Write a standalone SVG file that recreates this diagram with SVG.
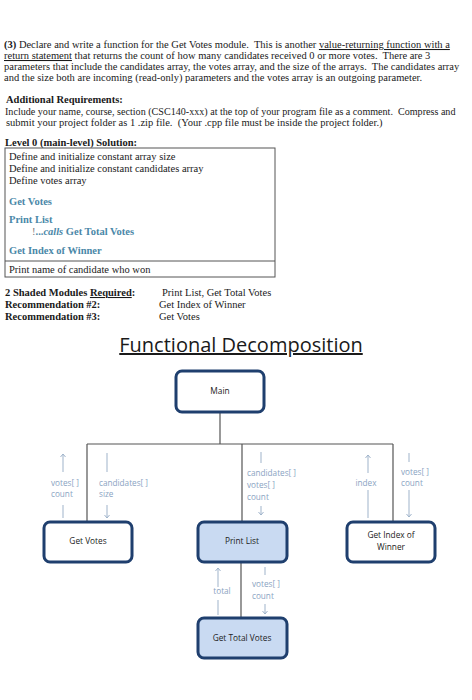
<svg xmlns="http://www.w3.org/2000/svg" width="472" height="700" viewBox="0 0 472 700">
<style>
.t{font-family:"Liberation Serif","Times New Roman",serif;font-size:10.5px;fill:#1a1a1a;white-space:pre}
.b{font-weight:bold}
.u{text-decoration:underline}
.blue{fill:#4a88a8;font-weight:bold}
.title{font-family:"Open Sans","Liberation Sans",sans-serif;font-size:20px;fill:#1a1a1a;text-decoration:underline}
.node{fill:#ffffff;stroke:#1f3f6e;stroke-width:3}
.shaded{fill:#c9daf2;stroke:#1f3f6e;stroke-width:3}
.nt{font-family:"Open Sans","Liberation Sans",sans-serif;font-size:8.3px;fill:#222;text-anchor:middle}
.lbl{font-family:"Open Sans","Liberation Sans",sans-serif;font-size:8.2px;fill:#8aa3c2}
.conn{stroke:#555;stroke-width:1.2;fill:none}
.flow{stroke:#9fb3ca;stroke-width:1;fill:none}
</style>
<defs>
<marker id="ah" markerWidth="6" markerHeight="6" refX="3" refY="3" orient="auto" markerUnits="userSpaceOnUse">
<path d="M0,0.5 L3,3 L0,5.5" fill="none" stroke="#9fb3ca" stroke-width="1"/>
</marker>
</defs>
<rect width="472" height="700" fill="#ffffff"/>
<g id="header">
<text class="t" x="4" y="48"><tspan class="b">(3)</tspan> Declare and write a function for the Get Votes module.  This is another <tspan class="u">value-returning function with a</tspan></text>
<text class="t" x="4" y="59"><tspan class="u">return statement</tspan> that returns the count of how many candidates received 0 or more votes.  There are 3</text>
<text class="t" x="4" y="70">parameters that include the candidates array, the votes array, and the size of the arrays.  The candidates array</text>
<text class="t" x="4" y="81">and the size both are incoming (read-only) parameters and the votes array is an outgoing parameter.</text>
<text class="t b" x="6" y="103">Additional Requirements:</text>
<text class="t" x="5" y="115" style="font-size:10.1px">Include your name, course, section (CSC140-xxx) at the top of your program file as a comment.  Compress and</text>
<text class="t" x="6" y="126">submit your project folder as 1 .zip file.  (Your .cpp file must be inside the project folder.)</text>
<text class="t b" x="5" y="146">Level 0 (main-level) Solution:</text>
</g>
<g id="solution-box">
<rect x="5" y="148" width="270" height="129" fill="none" stroke="#555" stroke-width="1"/>
<line x1="5" y1="261" x2="275" y2="261" stroke="#555" stroke-width="1"/>
<text class="t" x="9" y="160">Define and initialize constant array size</text>
<text class="t" x="9" y="172">Define and initialize constant candidates array</text>
<text class="t" x="9" y="184">Define votes array</text>
<text class="t blue" x="9" y="205">Get Votes</text>
<text class="t blue" x="9" y="223">Print List</text>
<text class="t blue" x="32" y="235"><tspan fill="#777" font-weight="normal">!</tspan>...<tspan font-style="italic">calls</tspan> Get Total Votes</text>
<text class="t blue" x="9" y="254">Get Index of Winner</text>
<text class="t" x="9" y="273">Print name of candidate who won</text>
</g>
<g id="modules">
<text class="t b" x="5" y="296">2 Shaded Modules <tspan class="u">Required</tspan>:</text>
<text class="t" x="162" y="296">Print List, Get Total Votes</text>
<text class="t b" x="5" y="308">Recommendation #2:</text>
<text class="t" x="159" y="308">Get Index of Winner</text>
<text class="t b" x="5" y="320">Recommendation #3:</text>
<text class="t" x="159" y="320">Get Votes</text>
</g>
<text class="title" x="241" y="352" text-anchor="middle">Functional Decomposition</text>
<g id="connectors">
<path class="conn" d="M220,412 V444 M87,444 H393 M87,444 V521 M242,444 V521 M393,444 V521 M241,562 V618"/>
<path class="flow" d="M63,472 V454" marker-end="url(#ah)"/>
<path class="flow" d="M63,505 V518"/>
<path class="flow" d="M107,453 V472"/>
<path class="flow" d="M107,505 V518" marker-end="url(#ah)"/>
<path class="flow" d="M261,452 V463"/>
<path class="flow" d="M261,506 V515" marker-end="url(#ah)"/>
<path class="flow" d="M368,473 V455" marker-end="url(#ah)"/>
<path class="flow" d="M368,490 V518"/>
<path class="flow" d="M409,453 V462"/>
<path class="flow" d="M409,490 V517" marker-end="url(#ah)"/>
<path class="flow" d="M218,587 V568" marker-end="url(#ah)"/>
<path class="flow" d="M218,600 V615"/>
<path class="flow" d="M265,567 V575"/>
<path class="flow" d="M265,604 V614" marker-end="url(#ah)"/>
<text class="lbl" x="51" y="486">votes[ ]</text>
<text class="lbl" x="51" y="497">count</text>
<text class="lbl" x="99" y="486">candidates[ ]</text>
<text class="lbl" x="99" y="497">size</text>
<text class="lbl" x="247" y="476">candidates[ ]</text>
<text class="lbl" x="247" y="488">votes[ ]</text>
<text class="lbl" x="247" y="500">count</text>
<text class="lbl" x="366" y="486" text-anchor="middle">index</text>
<text class="lbl" x="401" y="475">votes[ ]</text>
<text class="lbl" x="401" y="486">count</text>
<text class="lbl" x="222" y="594" text-anchor="middle">total</text>
<text class="lbl" x="252" y="587">votes[ ]</text>
<text class="lbl" x="252" y="599">count</text>
</g>
<g id="main">
<rect class="node" x="176" y="371" width="88" height="41" rx="6"/>
<text class="nt" x="220" y="394">Main</text>
</g>
<g id="get-votes">
<rect class="node" x="44" y="522" width="88" height="40" rx="6"/>
<text class="nt" x="88" y="544">Get Votes</text>
</g>
<g id="print-list">
<rect class="shaded" x="198" y="522" width="89" height="40" rx="6"/>
<text class="nt" x="242" y="544">Print List</text>
</g>
<g id="get-index">
<rect class="node" x="347" y="522" width="88" height="40" rx="6"/>
<text class="nt" x="391" y="538">Get Index of</text>
<text class="nt" x="391" y="550">Winner</text>
</g>
<g id="get-total">
<rect class="shaded" x="198" y="618" width="89" height="40" rx="6"/>
<text class="nt" x="242" y="641">Get Total Votes</text>
</g>
</svg>
